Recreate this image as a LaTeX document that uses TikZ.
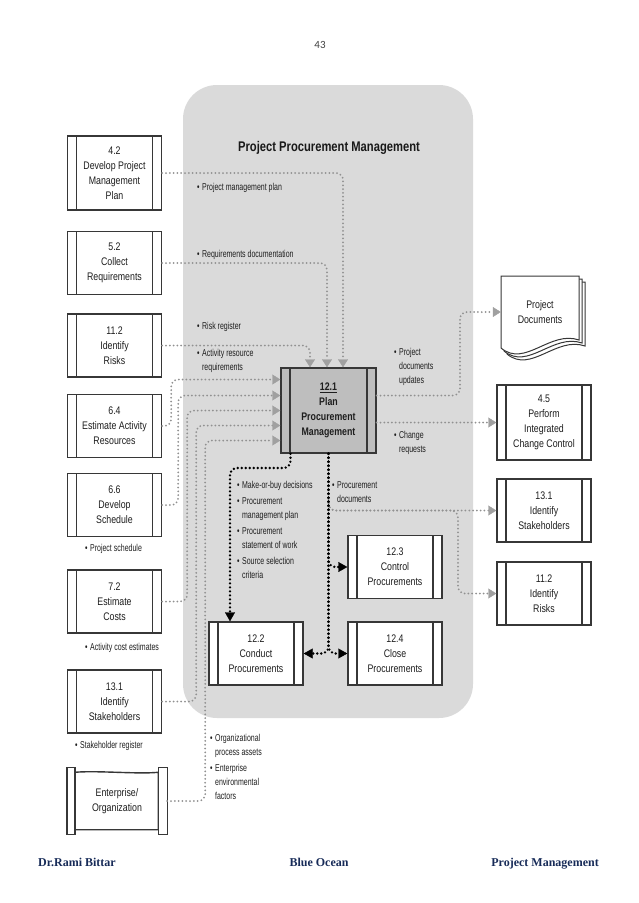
\documentclass[tikz,border=0pt]{standalone}
\usepackage{fontspec}
\setmainfont{Liberation Sans}
\newfontfamily\boxfont[FakeStretch=0.8]{Liberation Sans}
\newfontfamily\labfont[FakeStretch=0.7]{Liberation Sans}
\newfontfamily\pagefont{Carlito}
\newfontfamily\footfont{Liberation Serif}
\usetikzlibrary{arrows.meta}
\pgfdeclarelayer{bg}
\pgfsetlayers{bg,main}
\definecolor{panelgray}{RGB}{218,218,218}
\definecolor{boxline}{RGB}{55,55,55}
\definecolor{arrgray}{RGB}{145,145,145}
\definecolor{tipgray}{RGB}{160,160,160}
\definecolor{corefill}{RGB}{190,190,190}
\definecolor{txtgray}{RGB}{30,30,30}
\definecolor{footblue}{RGB}{23,43,88}
\newcommand{\bl}{\textbullet\hspace{2.5pt}}
\newcommand{\bi}{\phantom{\textbullet}\hspace{2.5pt}}
\tikzset{
  boxtxt/.style={rectangle, align=center, text=txtgray, inner sep=0pt,
    minimum width=94pt, minimum height=63pt,
    font=\boxfont\fontsize{11}{15}\selectfont},
  proc/.style={boxtxt, draw=boxline, line width=1.4pt, fill=white,
    path picture={
      \draw[boxline, line width=1.4pt]
        ([xshift=9pt]path picture bounding box.north west) -- ([xshift=9pt]path picture bounding box.south west)
        ([xshift=-9pt]path picture bounding box.north east) -- ([xshift=-9pt]path picture bounding box.south east);
    }},
  lab/.style={anchor=west, inner sep=0pt, align=left, text=txtgray,
    font=\labfont\fontsize{10}{14}\selectfont},
  foot/.style={inner sep=0pt, text=footblue,
    font=\footfont\bfseries\fontsize{12}{14}\selectfont},
  garrow/.style={draw=arrgray, line width=2pt, line cap=round,
    dash pattern=on 0pt off 3.8pt, rounded corners=7pt,
    -{Triangle[length=8pt, width=10pt, line width=0.4pt, color=tipgray]}},
  barrow/.style={draw=black, line width=2.6pt, line cap=round,
    dash pattern=on 0pt off 4pt, rounded corners=7pt,
    -{Triangle[length=9pt, width=10pt, line width=0.4pt]}}
}

\begin{document}
\begin{tikzpicture}[x=1pt, y=-1pt]
  \useasboundingbox (0,0) rectangle (638,903);
  \fill[panelgray, rounded corners=34pt] (183,85) rectangle (473,718);

  \node (pnum) [font=\pagefont\fontsize{11}{13}\selectfont, text=black!75] at (320,45) {43};
  \node (title) [font=\boxfont\bfseries\fontsize{14}{16}\selectfont, text=black!90] at (329,148) {Project Procurement Management};

  % inputs on the left
  \node (dpm) [proc, minimum height=74pt] at (114.5,173) {4.2\\Develop Project\\Management\\Plan};
  \node (crq) [proc] at (114.5,263) {5.2\\Collect\\Requirements};
  \node (irk) [proc] at (114.5,345.5) {11.2\\Identify\\Risks};
  \node (ear) [proc] at (114.5,426) {6.4\\Estimate Activity\\Resources};
  \node (dsc) [proc] at (114.5,505) {6.6\\Develop\\Schedule};
  \node (ecs) [proc] at (114.5,601.5) {7.2\\Estimate\\Costs};
  \node (isl) [proc] at (114.5,701.5) {13.1\\Identify\\Stakeholders};
  \node (ent) [boxtxt, minimum width=100pt, minimum height=67pt] at (117,801) {Enterprise/\\Organization};

  % the process
  \node (ppm) [proc, fill=corefill, minimum width=95pt, minimum height=85pt,
    font=\boxfont\bfseries\fontsize{11}{15}\selectfont] at (328.5,410.5) {\underline{12.1}\\Plan\\Procurement\\Management};
  \node (cpr) [proc] at (395,567) {12.3\\Control\\Procurements};
  \node (cdp) [proc] at (256,653.5) {12.2\\Conduct\\Procurements};
  \node (clp) [proc] at (395,653.5) {12.4\\Close\\Procurements};

  % outputs on the right
  \node (pdoc) [boxtxt, minimum width=78pt, minimum height=72pt] at (540,312) {Project\\Documents};
  \node (icc) [proc, minimum height=75pt] at (544,422.5) {4.5\\Perform\\Integrated\\Change Control};
  \node (isr) [proc] at (544,510.5) {13.1\\Identify\\Stakeholders};
  \node (irr) [proc] at (544,593.5) {11.2\\Identify\\Risks};

  \begin{pgfonlayer}{bg}
    \foreach \s in {6,3,0} {
      \begin{scope}[shift={(540+\s,312+\s)}]
        \filldraw[draw=boxline, line width=1pt, fill=white]
          (-39,-36) -- (39,-36) -- (39,28) .. controls (10,18) and (-15,56) .. (-39,36) -- cycle;
      \end{scope}
    }
    \filldraw[draw=boxline, line width=1.4pt, fill=white]
      ([xshift=8pt,yshift=-5pt]ent.north west) .. controls ([xshift=30pt,yshift=-3pt]ent.north west) and ([xshift=-30pt,yshift=-7pt]ent.north east) .. ([xshift=-9pt,yshift=-5pt]ent.north east)
      -- ([xshift=-9pt,yshift=5pt]ent.south east) -- ([xshift=8pt,yshift=5pt]ent.south west) -- cycle;
    \filldraw[draw=boxline, line width=1.4pt, fill=white]
      (ent.north west) rectangle ([xshift=8pt]ent.south west);
    \filldraw[draw=boxline, line width=1.4pt, fill=white]
      ([xshift=-9pt]ent.north east) rectangle (ent.south east);
  \end{pgfonlayer}

  \coordinate (pu) at (460,395.5);
  \coordinate (pd) at (328.5,500);
  \coordinate (br) at (458,510.5);
  \coordinate (k1) at (230,468);

  % gray inputs
  \draw[garrow] (dpm.east) -| ([xshift=14.5pt]ppm.north);
  \draw[garrow] (crq.east) -| ([xshift=-1.5pt]ppm.north);
  \draw[garrow] (irk.east) -| ([xshift=-18.5pt]ppm.north);
  \draw[garrow] (ear.east) -- ++(9,0) |- ([yshift=31pt]ppm.west);
  \draw[garrow] (dsc.east) -- ++(16,0) |- ([yshift=15pt]ppm.west);
  \draw[garrow] (ecs.east) -- ++(25,0) |- (ppm.west);
  \draw[garrow] (isl.east) -- ++(34,0) |- ([yshift=-15pt]ppm.west);
  \draw[garrow] (ent.east) -- ++(38,0) |- ([yshift=-30pt]ppm.west);

  % gray outputs
  \draw[garrow] ([yshift=15pt]ppm.east) -- (pu) |- (pdoc.west);
  \draw[garrow] (ppm.east |- icc.west) -- (icc.west);
  \draw[garrow] (pd) |- (isr.west);
  \draw[garrow] (pd) |- (br) |- (irr.west);

  % black flows
  \draw[barrow] ([xshift=-38pt]ppm.south) |- (k1) -- (k1 |- cdp.north);
  \draw[barrow] (ppm.south) |- (cpr.west);
  \draw[barrow] (ppm.south) |- (cdp.east);
  \draw[barrow] (ppm.south) |- (clp.west);

  % labels
  \node (lpmp) [lab] at (197,188) {\bl Project management plan};
  \node (lreq) [lab] at (197,255) {\bl Requirements documentation};
  \node (lrr) [lab] at (197,327) {\bl Risk register};
  \node (lar) [lab] at (197,361) {\bl Activity resource\\\bi requirements};
  \node (lpdu) [lab] at (394,367) {\bl Project\\\bi documents\\\bi updates};
  \node (lcr) [lab] at (394,442.5) {\bl Change\\\bi requests};
  \node (lpdc) [lab] at (332,492) {\bl Procurement\\\bi documents};
  \node (lout) [lab] at (237,530) {\bl Make-or-buy decisions\\[2pt]\bl Procurement\\\bi management plan\\[2pt]\bl Procurement\\\bi statement of work\\[2pt]\bl Source selection\\\bi criteria};
  \node (lps) [lab] at (85,549) {\bl Project schedule};
  \node (lace) [lab] at (85,648) {\bl Activity cost estimates};
  \node (lsr) [lab] at (75,746) {\bl Stakeholder register};
  \node (lopa) [lab] at (210,766.5) {\bl Organizational\\\bi process assets\\[2pt]\bl Enterprise\\\bi environmental\\\bi factors};

  % footer
  \node (fa) [foot, anchor=base west] at (38,866) {Dr.Rami Bittar};
  \node (fb) [foot, anchor=base] at (319,866) {Blue Ocean};
  \node (fc) [foot, anchor=base east] at (599,866) {Project Management};
\end{tikzpicture}
\end{document}
